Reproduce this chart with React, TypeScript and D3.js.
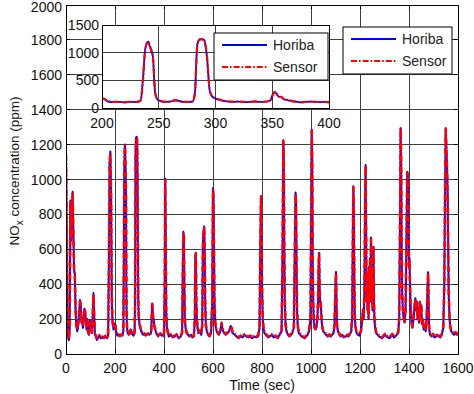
import React from 'react';
import * as d3 from 'd3';

// ---------- data ----------
const timeSec = [
  0, 3, 6, 9, 12, 15, 18, 21, 24, 27,
  30, 33, 36, 39, 42, 46, 50, 54, 57, 60,
  63, 66, 69, 72, 75, 78, 81, 84, 87, 90,
  94, 98, 102, 106, 109, 112, 115, 118, 122, 126,
  130, 136, 142, 148, 155, 162, 168, 172, 175, 178,
  181, 184, 187, 190, 194, 198, 202, 205, 210, 215,
  220, 225, 230, 234, 236, 238, 240, 241, 242, 244,
  245, 246, 247, 249, 252, 256, 260, 264, 267, 270,
  275, 280, 282, 283, 284, 286, 288, 290, 291, 293,
  294, 295, 297, 300, 305, 310, 315, 320, 325, 330,
  335, 340, 345, 348, 350, 352, 354, 356, 358, 360,
  364, 368, 372, 376, 380, 385, 390, 395, 400, 403,
  405, 407, 409, 412, 416, 420, 428, 436, 444, 452,
  460, 468, 474, 477, 479, 481, 483, 485, 488, 492,
  498, 504, 510, 516, 522, 526, 528, 530, 532, 534,
  537, 540, 546, 552, 556, 559, 561, 564, 566, 568,
  571, 575, 580, 586, 592, 597, 600, 602, 604, 606,
  609, 613, 618, 624, 630, 635, 639, 645, 652, 660,
  666, 672, 676, 680, 688, 696, 704, 712, 720, 728,
  736, 744, 752, 760, 768, 776, 784, 790, 793, 796,
  798, 800, 803, 806, 810, 816, 824, 832, 840, 848,
  856, 864, 872, 880, 884, 887, 889, 891, 893, 896,
  900, 906, 912, 918, 924, 930, 934, 937, 939, 941,
  943, 946, 950, 956, 962, 968, 974, 980, 986, 992,
  998, 1001, 1003, 1005, 1007, 1009, 1011, 1014, 1018, 1022,
  1026, 1029, 1031, 1033, 1035, 1037, 1039, 1041, 1043, 1046,
  1050, 1056, 1062, 1068, 1074, 1080, 1086, 1092, 1096, 1099,
  1102, 1104, 1106, 1110, 1116, 1122, 1128, 1134, 1140, 1146,
  1152, 1158, 1164, 1168, 1171, 1173, 1175, 1177, 1179, 1182,
  1186, 1192, 1198, 1204, 1208, 1212, 1215, 1218, 1221, 1223,
  1225, 1227, 1229, 1231, 1233, 1235, 1237, 1239, 1241, 1243,
  1245, 1247, 1249, 1251, 1253, 1255, 1257, 1259, 1262, 1266,
  1272, 1278, 1284, 1290, 1296, 1302, 1308, 1314, 1320, 1326,
  1332, 1338, 1344, 1350, 1356, 1360, 1363, 1366, 1368, 1370,
  1372, 1375, 1378, 1382, 1386, 1390, 1393, 1396, 1398, 1400,
  1402, 1404, 1407, 1410, 1414, 1418, 1422, 1426, 1429, 1432,
  1435, 1438, 1441, 1444, 1447, 1450, 1453, 1456, 1460, 1464,
  1468, 1472, 1475, 1478, 1480, 1482, 1486, 1492, 1498, 1504,
  1510, 1516, 1522, 1528, 1534, 1540, 1544, 1547, 1550, 1552,
  1555, 1558, 1560, 1562, 1565, 1568, 1572, 1578, 1584, 1590,
  1595, 1600,
];

const horiba = [
  1150, 700, 200, 90, 80, 150, 880, 650, 760, 930,
  700, 480, 460, 250, 160, 130, 170, 230, 310, 290,
  180, 200, 150, 190, 260, 250, 180, 140, 200, 120,
  110, 190, 150, 120, 220, 350, 220, 110, 100, 80,
  90, 110, 90, 95, 90, 100, 90, 110, 500, 1100,
  1160, 900, 300, 180, 140, 175, 160, 120, 105, 110,
  100, 110, 105, 130, 500, 1050, 1190, 1200, 1120, 1000,
  900, 500, 250, 150, 120, 110, 115, 140, 135, 115,
  105, 120, 300, 800, 1150, 1240, 1245, 1230, 1150, 800,
  500, 300, 210, 170, 140, 120, 110, 115, 105, 110,
  115, 110, 115, 130, 220, 290, 250, 200, 200, 160,
  140, 120, 110, 100, 110, 115, 105, 110, 100, 400,
  1005, 700, 250, 150, 120, 100, 110, 95, 100, 110,
  90, 100, 120, 500, 700, 680, 400, 200, 150, 120,
  110, 100, 110, 95, 100, 200, 560, 580, 300, 200,
  150, 120, 130, 110, 160, 640, 700, 730, 600, 300,
  160, 130, 110, 100, 120, 300, 950, 900, 600, 300,
  180, 140, 120, 110, 130, 180, 140, 120, 110, 120,
  130, 160, 150, 120, 110, 100, 90, 100, 95, 110,
  100, 95, 100, 90, 100, 95, 100, 150, 600, 905,
  800, 400, 200, 150, 120, 110, 95, 100, 110, 95,
  100, 90, 110, 130, 600, 1225, 1100, 600, 300, 170,
  130, 110, 100, 110, 120, 150, 600, 925, 850, 500,
  250, 160, 120, 110, 100, 95, 90, 100, 110, 130,
  200, 900, 1285, 1100, 500, 300, 200, 150, 140, 150,
  200, 300, 500, 580, 400, 300, 300, 250, 200, 150,
  130, 120, 110, 100, 110, 100, 110, 120, 160, 350,
  470, 300, 170, 130, 110, 100, 110, 95, 100, 105,
  100, 110, 130, 200, 700, 962, 800, 400, 200, 150,
  120, 110, 105, 130, 180, 250, 200, 350, 900, 1083,
  700, 300, 450, 250, 400, 200, 500, 300, 550, 350,
  667, 300, 500, 250, 450, 615, 300, 200, 150, 120,
  110, 100, 95, 90, 100, 110, 100, 95, 90, 100,
  110, 95, 100, 110, 120, 200, 700, 1293, 1100, 600,
  350, 250, 200, 180, 250, 700, 1045, 1000, 700, 500,
  550, 400, 250, 180, 150, 200, 260, 320, 250, 300,
  200, 260, 180, 300, 220, 280, 170, 200, 140, 160,
  130, 200, 350, 468, 300, 150, 110, 100, 110, 95,
  100, 110, 100, 95, 110, 150, 400, 900, 1293, 1200,
  1083, 900, 600, 350, 220, 160, 130, 120, 110, 120,
  110, 120,
];

const sensor = [
  1140, 690, 210, 95, 85, 160, 870, 660, 750, 925,
  690, 490, 450, 260, 170, 140, 175, 240, 300, 285,
  190, 205, 160, 185, 250, 245, 190, 150, 195, 130,
  115, 185, 160, 125, 215, 340, 230, 115, 105, 90,
  95, 105, 95, 100, 95, 105, 95, 115, 480, 1090,
  1150, 910, 320, 190, 150, 170, 165, 125, 110, 112,
  105, 112, 110, 135, 480, 1040, 1185, 1195, 1130, 1010,
  910, 520, 260, 155, 125, 115, 118, 138, 132, 118,
  110, 122, 290, 780, 1140, 1235, 1240, 1232, 1160, 810,
  510, 310, 215, 175, 145, 125, 115, 118, 110, 112,
  118, 112, 118, 135, 215, 285, 255, 205, 198, 165,
  145, 125, 112, 105, 112, 118, 108, 112, 105, 390,
  995, 710, 260, 155, 125, 105, 112, 100, 105, 112,
  95, 105, 125, 490, 690, 685, 410, 210, 155, 125,
  115, 105, 112, 100, 105, 210, 550, 575, 310, 210,
  155, 125, 135, 115, 165, 630, 695, 725, 610, 310,
  165, 135, 115, 105, 125, 290, 940, 905, 610, 310,
  185, 145, 125, 115, 135, 175, 145, 125, 115, 125,
  135, 155, 150, 125, 115, 105, 95, 105, 100, 112,
  105, 100, 105, 95, 105, 100, 105, 155, 590, 900,
  810, 410, 210, 155, 125, 115, 100, 105, 112, 100,
  105, 95, 112, 135, 590, 1220, 1110, 610, 310, 175,
  135, 115, 105, 112, 125, 155, 590, 920, 855, 510,
  260, 165, 125, 115, 105, 100, 95, 105, 115, 135,
  210, 890, 1280, 1110, 510, 310, 210, 155, 145, 155,
  205, 310, 490, 575, 410, 305, 295, 255, 205, 155,
  135, 125, 115, 105, 112, 105, 115, 125, 165, 340,
  465, 310, 175, 135, 115, 105, 112, 100, 105, 110,
  105, 115, 135, 210, 690, 955, 810, 410, 210, 155,
  125, 115, 110, 135, 185, 255, 210, 340, 890, 1080,
  710, 310, 440, 260, 390, 210, 490, 310, 540, 360,
  660, 310, 490, 260, 440, 610, 310, 210, 155, 125,
  115, 105, 100, 95, 105, 115, 105, 100, 95, 105,
  115, 100, 105, 115, 125, 210, 690, 1290, 1110, 610,
  360, 260, 210, 185, 255, 690, 1040, 1005, 710, 510,
  540, 410, 260, 185, 155, 205, 265, 315, 255, 295,
  205, 255, 185, 295, 225, 275, 175, 205, 145, 165,
  135, 205, 340, 465, 310, 155, 115, 105, 115, 100,
  105, 115, 105, 100, 115, 155, 390, 890, 1290, 1205,
  1080, 905, 610, 360, 225, 165, 135, 125, 115, 125,
  115, 125,
];

const seriesNames = ['Horiba', 'Sensor'];
const xTicks = [0, 200, 400, 600, 800, 1000, 1200, 1400, 1600];
const yTicks = [0, 200, 400, 600, 800, 1000, 1200, 1400, 1600, 1800, 2000];
const insetXTicks = [200, 250, 300, 350, 400];
const insetYTicks = [0, 500, 1000, 1500];

type Pt = { t: number; h: number; s: number };

const FONT = "'Liberation Sans', Arial, sans-serif";
const BLUE = '#0000ff';
const RED = '#ff0000';
const GRID = '#404040';
const DASH = '6,2,1.6,2';

export default function App() {
  const W = 474;
  const H = 394;
  const main = { l: 66, r: 458, t: 5, b: 354 };
  const ins = { l: 102, r: 329, t: 25, b: 108 };

  const x = d3.scaleLinear().domain([0, 1600]).range([main.l, main.r]);
  const y = d3.scaleLinear().domain([0, 2000]).range([main.b, main.t]);
  const ix = d3.scaleLinear().domain([200, 400]).range([ins.l, ins.r]);
  const iy = d3.scaleLinear().domain([0, 1500]).range([ins.b, ins.t]);

  const n = Math.min(timeSec.length, horiba.length, sensor.length);
  const pts: Pt[] = [];
  for (let i = 0; i < n; i++) pts.push({ t: timeSec[i], h: horiba[i], s: sensor[i] });
  const insetPts = pts.filter((p) => p.t >= 190 && p.t <= 410);

  const mainH = d3.line<Pt>().x((d) => x(d.t)).y((d) => y(d.h))(pts) || '';
  const mainS = d3.line<Pt>().x((d) => x(d.t)).y((d) => y(d.s))(pts) || '';
  const insH = d3.line<Pt>().x((d) => ix(d.t)).y((d) => iy(d.h)).curve(d3.curveMonotoneX)(insetPts) || '';
  const insS = d3.line<Pt>().x((d) => ix(d.t)).y((d) => iy(d.s)).curve(d3.curveMonotoneX)(insetPts) || '';

  const tickLen = 4;

  const legend = (lx: number, ly: number, w: number, h: number, key: string) => (
    <g key={key}>
      <rect x={lx} y={ly} width={w} height={h} fill="#fff" stroke="#000" strokeWidth={1} />
      <line x1={lx + 8} x2={lx + 53} y1={ly + 12} y2={ly + 12} stroke={BLUE} strokeWidth={2} />
      <text x={lx + 59} y={ly + 12} dy="0.36em" fontSize={14} fontFamily={FONT} fill="#222">
        {seriesNames[0]}
      </text>
      <line x1={lx + 8} x2={lx + 53} y1={ly + 34} y2={ly + 34} stroke={RED} strokeWidth={2} strokeDasharray={DASH} />
      <text x={lx + 59} y={ly + 34} dy="0.36em" fontSize={14} fontFamily={FONT} fill="#222">
        {seriesNames[1]}
      </text>
    </g>
  );

  return (
    <svg
      width={W}
      height={H}
      viewBox={`0 0 ${W} ${H}`}
      style={{ position: 'absolute', left: 0, top: 0, background: '#fff' }}
    >
      <defs>
        <clipPath id="mainClip">
          <rect x={main.l} y={main.t} width={main.r - main.l} height={main.b - main.t} />
        </clipPath>
        <clipPath id="insClip">
          <rect x={ins.l} y={ins.t} width={ins.r - ins.l} height={ins.b - ins.t} />
        </clipPath>
      </defs>
      <rect x={0} y={0} width={W} height={H} fill="#fff" />

      {/* main grid */}
      <g shapeRendering="crispEdges">
        {xTicks.map((v) => (
          <line key={'gx' + v} x1={x(v)} x2={x(v)} y1={main.t} y2={main.b} stroke={GRID} strokeWidth={1} />
        ))}
        {yTicks.map((v) => (
          <line key={'gy' + v} x1={main.l} x2={main.r} y1={y(v)} y2={y(v)} stroke={GRID} strokeWidth={1} />
        ))}
      </g>

      {/* main series */}
      <g clipPath="url(#mainClip)" fill="none" strokeLinejoin="round">
        <path d={mainH} stroke={BLUE} strokeWidth={2} />
        <path d={mainS} stroke={RED} strokeWidth={2.6} strokeDasharray={DASH} />
      </g>

      {/* main frame & ticks */}
      <g shapeRendering="crispEdges">
        <rect x={main.l} y={main.t} width={main.r - main.l} height={main.b - main.t} fill="none" stroke="#000" strokeWidth={1} />
        {xTicks.map((v) => (
          <g key={'tx' + v}>
            <line x1={x(v)} x2={x(v)} y1={main.b} y2={main.b - tickLen} stroke="#000" />
            <line x1={x(v)} x2={x(v)} y1={main.t} y2={main.t + tickLen} stroke="#000" />
          </g>
        ))}
        {yTicks.map((v) => (
          <g key={'ty' + v}>
            <line x1={main.l} x2={main.l + tickLen} y1={y(v)} y2={y(v)} stroke="#000" />
            <line x1={main.r} x2={main.r - tickLen} y1={y(v)} y2={y(v)} stroke="#000" />
          </g>
        ))}
      </g>

      {/* main tick labels */}
      <g fontFamily={FONT} fontSize={14} fill="#111">
        {xTicks.map((v) => (
          <text key={'lx' + v} x={x(v)} y={373} textAnchor="middle">
            {v}
          </text>
        ))}
        {yTicks.map((v) => (
          <text key={'ly' + v} x={62} y={Math.max(y(v), 6.5)} dy="0.36em" textAnchor="end">
            {v}
          </text>
        ))}
      </g>

      {/* axis titles */}
      <text x={(main.l + main.r) / 2} y={390} textAnchor="middle" fontFamily={FONT} fontSize={14} fill="#111">
        Time (sec)
      </text>
      <text
        transform="rotate(-90)"
        x={-171}
        y={19}
        textAnchor="middle"
        fontFamily={FONT}
        fontSize={13.5}
        fill="#111"
      >
        NO
        <tspan dy={4} fontSize={10}>x</tspan>
        <tspan dy={-4}> concentration (ppm)</tspan>
      </text>

      {/* inset */}
      <rect x={ins.l} y={ins.t} width={ins.r - ins.l} height={ins.b - ins.t} fill="#fff" />
      <g shapeRendering="crispEdges">
        {insetXTicks.map((v) => (
          <line key={'igx' + v} x1={ix(v)} x2={ix(v)} y1={ins.t} y2={ins.b} stroke={GRID} strokeWidth={1} />
        ))}
        {insetYTicks.map((v) => (
          <line key={'igy' + v} x1={ins.l} x2={ins.r} y1={iy(v)} y2={iy(v)} stroke={GRID} strokeWidth={1} />
        ))}
      </g>
      <g clipPath="url(#insClip)" fill="none" strokeLinejoin="round">
        <path d={insH} stroke={BLUE} strokeWidth={1.8} />
        <path d={insS} stroke={RED} strokeWidth={2.2} strokeDasharray={DASH} />
      </g>
      <g shapeRendering="crispEdges">
        <rect x={ins.l} y={ins.t} width={ins.r - ins.l} height={ins.b - ins.t} fill="none" stroke="#000" strokeWidth={1} />
      </g>
      <g fontFamily={FONT} fontSize={14} fill="#111">
        {insetXTicks.map((v) => (
          <text key={'ilx' + v} x={ix(v)} y={128} textAnchor="middle">
            {v}
          </text>
        ))}
        {insetYTicks.map((v) => (
          <text key={'ily' + v} x={ins.l - 3} y={iy(v)} dy="0.36em" textAnchor="end">
            {v}
          </text>
        ))}
      </g>

      {legend(214, 33, 114, 47, 'insLegend')}
      {legend(343, 27, 109, 47, 'mainLegend')}
    </svg>
  );
}
